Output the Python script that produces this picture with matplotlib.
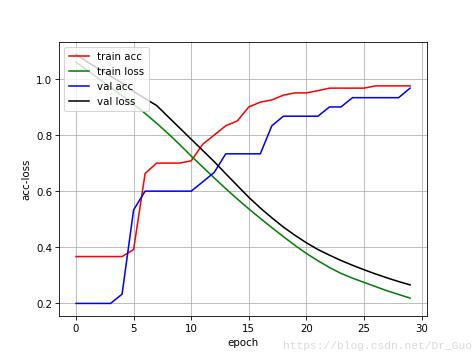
import matplotlib
matplotlib.use('Agg')
import matplotlib.pyplot as plt
import numpy as np

# values (30 epochs)
epochs = np.arange(30)

train_acc = [0.367, 0.367, 0.367, 0.367, 0.367, 0.392, 0.663, 0.700, 0.700, 0.700,
             0.708, 0.767, 0.800, 0.833, 0.850, 0.900, 0.917, 0.925, 0.942, 0.950,
             0.950, 0.958, 0.967, 0.967, 0.967, 0.967, 0.975, 0.975, 0.975, 0.975]

train_loss = [1.060, 1.030, 1.000, 0.970, 0.940, 0.910, 0.877, 0.842, 0.805, 0.766,
              0.725, 0.686, 0.647, 0.609, 0.572, 0.537, 0.503, 0.470, 0.438, 0.407,
              0.378, 0.352, 0.328, 0.307, 0.290, 0.275, 0.260, 0.245, 0.232, 0.219]

val_acc = [0.200, 0.200, 0.200, 0.200, 0.233, 0.533, 0.600, 0.600, 0.600, 0.600,
           0.600, 0.633, 0.667, 0.733, 0.733, 0.733, 0.733, 0.833, 0.867, 0.867,
           0.867, 0.867, 0.900, 0.900, 0.933, 0.933, 0.933, 0.933, 0.933, 0.967]

val_loss = [1.087, 1.060, 1.035, 1.010, 0.985, 0.955, 0.930, 0.905, 0.865, 0.825,
            0.785, 0.745, 0.705, 0.662, 0.620, 0.578, 0.540, 0.505, 0.472, 0.443,
            0.416, 0.392, 0.372, 0.353, 0.336, 0.320, 0.305, 0.291, 0.278, 0.266]

fig = plt.figure(figsize=(6.4, 4.8), dpi=74.1)
ax = fig.add_subplot(111)

ax.plot(epochs, train_acc, 'r', label='train acc')
ax.plot(epochs, train_loss, 'g', label='train loss')
ax.plot(epochs, val_acc, 'b', label='val acc')
ax.plot(epochs, val_loss, 'k', label='val loss')

ax.grid(True)
ax.set_xlabel('epoch')
ax.set_ylabel('acc-loss')
ax.legend(loc='upper left')

# blog watermark at bottom right
fig.text(0.995, 0.012, 'https://blog.csdn.net/Dr_Guo', ha='right', va='bottom',
         family='Liberation Mono', fontsize=11, color='#d9d9d9')

fig.savefig('out.png', dpi=74.1)
